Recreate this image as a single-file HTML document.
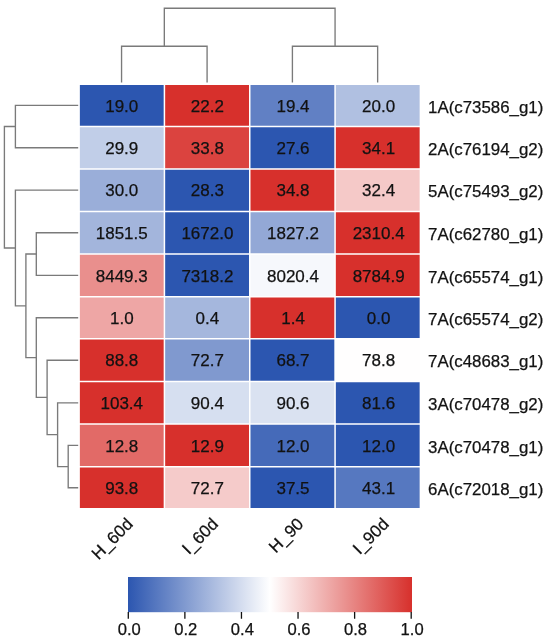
<!DOCTYPE html>
<html lang="en"><head><meta charset="utf-8"><title>Heatmap</title>
<style>html,body{margin:0;padding:0;background:#fff}body{width:550px;height:642px;overflow:hidden}svg{display:block}</style></head>
<body>
<svg width="550" height="642" viewBox="0 0 550 642">
<defs><linearGradient id="cb" x1="0" x2="1" y1="0" y2="0"><stop offset="0" stop-color="#2c56b0"/><stop offset="0.5" stop-color="#ffffff"/><stop offset="1" stop-color="#d7302c"/></linearGradient></defs>
<rect width="550" height="642" fill="#ffffff"/>
<rect x="79.10" y="84.20" width="85.32" height="42.30" fill="#2c56b0"/>
<rect x="164.42" y="84.20" width="85.32" height="42.30" fill="#d7302c"/>
<rect x="249.75" y="84.20" width="85.32" height="42.30" fill="#6180c4"/>
<rect x="335.07" y="84.20" width="85.32" height="42.30" fill="#b0c0e1"/>
<rect x="79.10" y="126.50" width="85.32" height="42.40" fill="#c1cee8"/>
<rect x="164.42" y="126.50" width="85.32" height="42.40" fill="#db433f"/>
<rect x="249.75" y="126.50" width="85.32" height="42.40" fill="#2c56b0"/>
<rect x="335.07" y="126.50" width="85.32" height="42.40" fill="#d7302c"/>
<rect x="79.10" y="168.90" width="85.32" height="42.50" fill="#9aaed9"/>
<rect x="164.42" y="168.90" width="85.32" height="42.50" fill="#2c56b0"/>
<rect x="249.75" y="168.90" width="85.32" height="42.50" fill="#d7302c"/>
<rect x="335.07" y="168.90" width="85.32" height="42.50" fill="#f5c9c8"/>
<rect x="79.10" y="211.40" width="85.32" height="42.60" fill="#a3b5dc"/>
<rect x="164.42" y="211.40" width="85.32" height="42.60" fill="#2c56b0"/>
<rect x="249.75" y="211.40" width="85.32" height="42.60" fill="#93a8d6"/>
<rect x="335.07" y="211.40" width="85.32" height="42.60" fill="#d7302c"/>
<rect x="79.10" y="254.00" width="85.32" height="42.70" fill="#e98f8d"/>
<rect x="164.42" y="254.00" width="85.32" height="42.70" fill="#2c56b0"/>
<rect x="249.75" y="254.00" width="85.32" height="42.70" fill="#f6f8fc"/>
<rect x="335.07" y="254.00" width="85.32" height="42.70" fill="#d7302c"/>
<rect x="79.10" y="296.70" width="85.32" height="42.10" fill="#eea6a5"/>
<rect x="164.42" y="296.70" width="85.32" height="42.10" fill="#a5b7dd"/>
<rect x="249.75" y="296.70" width="85.32" height="42.10" fill="#d7302c"/>
<rect x="335.07" y="296.70" width="85.32" height="42.10" fill="#2c56b0"/>
<rect x="79.10" y="338.80" width="85.32" height="42.80" fill="#d7302c"/>
<rect x="164.42" y="338.80" width="85.32" height="42.80" fill="#8099cf"/>
<rect x="249.75" y="338.80" width="85.32" height="42.80" fill="#2c56b0"/>
<rect x="335.07" y="338.80" width="85.32" height="42.80" fill="#fffefe"/>
<rect x="79.10" y="381.60" width="85.32" height="42.40" fill="#d7302c"/>
<rect x="164.42" y="381.60" width="85.32" height="42.40" fill="#d6dff0"/>
<rect x="249.75" y="381.60" width="85.32" height="42.40" fill="#dae2f1"/>
<rect x="335.07" y="381.60" width="85.32" height="42.40" fill="#2c56b0"/>
<rect x="79.10" y="424.00" width="85.32" height="42.80" fill="#e26a67"/>
<rect x="164.42" y="424.00" width="85.32" height="42.80" fill="#d7302c"/>
<rect x="249.75" y="424.00" width="85.32" height="42.80" fill="#456ab9"/>
<rect x="335.07" y="424.00" width="85.32" height="42.80" fill="#2c56b0"/>
<rect x="79.10" y="466.80" width="85.32" height="41.90" fill="#d7302c"/>
<rect x="164.42" y="466.80" width="85.32" height="41.90" fill="#f5cbca"/>
<rect x="249.75" y="466.80" width="85.32" height="41.90" fill="#2c56b0"/>
<rect x="335.07" y="466.80" width="85.32" height="41.90" fill="#5678c0"/>
<path d="M79.10 84.20H420.40V508.70H79.10ZM164.42 84.20V508.70M249.75 84.20V508.70M335.07 84.20V508.70M79.10 126.50H420.40M79.10 168.90H420.40M79.10 211.40H420.40M79.10 254.00H420.40M79.10 296.70H420.40M79.10 338.80H420.40M79.10 381.60H420.40M79.10 424.00H420.40M79.10 466.80H420.40" stroke="#ffffff" stroke-width="1.5" fill="none"/>
<g font-family="'Liberation Sans', Arial, sans-serif" font-size="17.0" fill="#121212" stroke="#121212" stroke-width="0.25">
<text transform="translate(121.76 111.64) scale(1.000 1)" text-anchor="middle">19.0</text>
<text transform="translate(207.39 111.64) scale(1.000 1)" text-anchor="middle">22.2</text>
<text transform="translate(293.01 111.64) scale(1.000 1)" text-anchor="middle">19.4</text>
<text transform="translate(378.64 111.64) scale(1.000 1)" text-anchor="middle">20.0</text>
<text transform="translate(121.76 153.99) scale(1.000 1)" text-anchor="middle">29.9</text>
<text transform="translate(207.39 153.99) scale(1.000 1)" text-anchor="middle">33.8</text>
<text transform="translate(293.01 153.99) scale(1.000 1)" text-anchor="middle">27.6</text>
<text transform="translate(378.64 153.99) scale(1.000 1)" text-anchor="middle">34.1</text>
<text transform="translate(121.76 196.44) scale(1.000 1)" text-anchor="middle">30.0</text>
<text transform="translate(207.39 196.44) scale(1.000 1)" text-anchor="middle">28.3</text>
<text transform="translate(293.01 196.44) scale(1.000 1)" text-anchor="middle">34.8</text>
<text transform="translate(378.64 196.44) scale(1.000 1)" text-anchor="middle">32.4</text>
<text transform="translate(121.76 238.99) scale(1.000 1)" text-anchor="middle">1851.5</text>
<text transform="translate(207.39 238.99) scale(1.000 1)" text-anchor="middle">1672.0</text>
<text transform="translate(293.01 238.99) scale(1.000 1)" text-anchor="middle">1827.2</text>
<text transform="translate(378.64 238.99) scale(1.000 1)" text-anchor="middle">2310.4</text>
<text transform="translate(121.76 281.64) scale(1.000 1)" text-anchor="middle">8449.3</text>
<text transform="translate(207.39 281.64) scale(1.000 1)" text-anchor="middle">7318.2</text>
<text transform="translate(293.01 281.64) scale(1.000 1)" text-anchor="middle">8020.4</text>
<text transform="translate(378.64 281.64) scale(1.000 1)" text-anchor="middle">8784.9</text>
<text transform="translate(121.76 324.04) scale(1.000 1)" text-anchor="middle">1.0</text>
<text transform="translate(207.39 324.04) scale(1.000 1)" text-anchor="middle">0.4</text>
<text transform="translate(293.01 324.04) scale(1.000 1)" text-anchor="middle">1.4</text>
<text transform="translate(378.64 324.04) scale(1.000 1)" text-anchor="middle">0.0</text>
<text transform="translate(121.76 366.49) scale(1.000 1)" text-anchor="middle">88.8</text>
<text transform="translate(207.39 366.49) scale(1.000 1)" text-anchor="middle">72.7</text>
<text transform="translate(293.01 366.49) scale(1.000 1)" text-anchor="middle">68.7</text>
<text transform="translate(378.64 366.49) scale(1.000 1)" text-anchor="middle">78.8</text>
<text transform="translate(121.76 409.09) scale(1.000 1)" text-anchor="middle">103.4</text>
<text transform="translate(207.39 409.09) scale(1.000 1)" text-anchor="middle">90.4</text>
<text transform="translate(293.01 409.09) scale(1.000 1)" text-anchor="middle">90.6</text>
<text transform="translate(378.64 409.09) scale(1.000 1)" text-anchor="middle">81.6</text>
<text transform="translate(121.76 451.69) scale(1.000 1)" text-anchor="middle">12.8</text>
<text transform="translate(207.39 451.69) scale(1.000 1)" text-anchor="middle">12.9</text>
<text transform="translate(293.01 451.69) scale(1.000 1)" text-anchor="middle">12.0</text>
<text transform="translate(378.64 451.69) scale(1.000 1)" text-anchor="middle">12.0</text>
<text transform="translate(121.76 494.04) scale(1.000 1)" text-anchor="middle">93.8</text>
<text transform="translate(207.39 494.04) scale(1.000 1)" text-anchor="middle">72.7</text>
<text transform="translate(293.01 494.04) scale(1.000 1)" text-anchor="middle">37.5</text>
<text transform="translate(378.64 494.04) scale(1.000 1)" text-anchor="middle">43.1</text>
<text font-size="16.85" transform="translate(428.10 112.54) scale(1.000 1)">1A(c73586_g1)</text>
<text font-size="16.85" transform="translate(428.10 154.89) scale(1.000 1)">2A(c76194_g2)</text>
<text font-size="16.85" transform="translate(428.10 197.34) scale(1.000 1)">5A(c75493_g2)</text>
<text font-size="16.85" transform="translate(428.10 239.89) scale(1.000 1)">7A(c62780_g1)</text>
<text font-size="16.85" transform="translate(428.10 282.54) scale(1.000 1)">7A(c65574_g1)</text>
<text font-size="16.85" transform="translate(428.10 324.94) scale(1.000 1)">7A(c65574_g2)</text>
<text font-size="16.85" transform="translate(428.10 367.39) scale(1.000 1)">7A(c48683_g1)</text>
<text font-size="16.85" transform="translate(428.10 409.99) scale(1.000 1)">3A(c70478_g2)</text>
<text font-size="16.85" transform="translate(428.10 452.59) scale(1.000 1)">3A(c70478_g1)</text>
<text font-size="16.85" transform="translate(428.10 494.94) scale(1.000 1)">6A(c72018_g1)</text>
<text transform="translate(133.86 525.10) rotate(-45) scale(1.000 1)" text-anchor="end">H_60d</text>
<text transform="translate(219.19 525.10) rotate(-45) scale(1.000 1)" text-anchor="end">I_60d</text>
<text transform="translate(304.51 525.10) rotate(-45) scale(1.000 1)" text-anchor="end">H_90</text>
<text transform="translate(389.84 525.10) rotate(-45) scale(1.000 1)" text-anchor="end">I_90d</text>
<text font-size="16.6" transform="translate(129.20 635.20) scale(1.000 1)" text-anchor="middle">0.0</text>
<text font-size="16.6" transform="translate(185.78 635.20) scale(1.000 1)" text-anchor="middle">0.2</text>
<text font-size="16.6" transform="translate(242.36 635.20) scale(1.000 1)" text-anchor="middle">0.4</text>
<text font-size="16.6" transform="translate(298.94 635.20) scale(1.000 1)" text-anchor="middle">0.6</text>
<text font-size="16.6" transform="translate(355.52 635.20) scale(1.000 1)" text-anchor="middle">0.8</text>
<text font-size="16.6" transform="translate(412.10 635.20) scale(1.000 1)" text-anchor="middle">1.0</text>
</g>
<rect x="128" y="577" width="284" height="35.2" fill="url(#cb)"/>
<path d="M128.30 612V618.7M184.88 612V618.7M241.46 612V618.7M298.04 612V618.7M354.62 612V618.7M411.20 612V618.7" stroke="#111" stroke-width="1.3" fill="none"/>
<path d="M121.56 82.6V46.2H207.09V82.6M292.41 82.6V46.2H377.64V82.6M164.32 46.2V8.2H335.07V46.2M78.20 445.40H68.20V487.75H78.20M78.20 402.80H57.60V466.57H68.20M78.20 360.20H47.10V434.69H57.60M78.20 317.75H36.30V397.44H47.10M78.20 232.70H36.30V275.35H78.20M36.30 254.03H25.90V357.60H36.30M78.20 190.15H15.40V305.81H25.90M78.20 105.35H15.40V147.70H78.20M15.40 126.52H4.40V247.98H15.40" stroke="#7a7a7a" stroke-width="1.35" fill="none" stroke-linejoin="miter"/>
</svg>
</body></html>
